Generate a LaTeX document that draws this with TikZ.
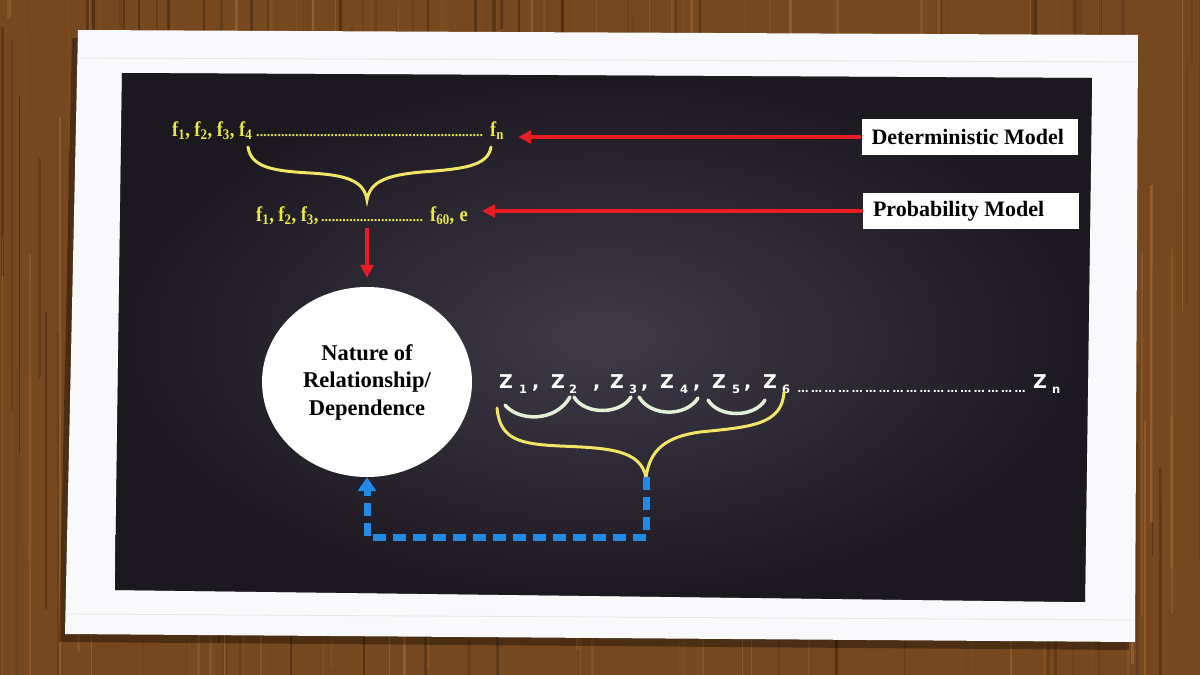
\documentclass[tikz,border=0pt]{standalone}
\usepackage{fontspec}
\setmainfont{Liberation Serif}
\newfontfamily\zfont{DejaVu Sans}
\usetikzlibrary{arrows.meta,shapes.geometric}
\definecolor{woodBase}{RGB}{118,72,32}
\definecolor{woodDark}{RGB}{50,28,12}
\definecolor{woodLight}{RGB}{175,115,55}
\definecolor{boardBase}{RGB}{44,40,52}
\definecolor{boardIn}{RGB}{68,63,78}
\definecolor{boardOut}{RGB}{24,21,28}
\definecolor{frameWhite}{RGB}{249,249,251}
\definecolor{chalkYellow}{RGB}{236,232,72}
\definecolor{braceYellow}{RGB}{242,228,100}
\definecolor{arcWhite}{RGB}{226,240,214}
\definecolor{arrowRed}{RGB}{232,28,34}
\definecolor{dashBlue}{RGB}{32,138,228}
\newcommand{\leaderdots}[2]{\makebox[#1][l]{\fontsize{#2}{#2}\selectfont\xleaders\hbox{.}\hfill}}
\newcommand{\leaderell}[1]{\makebox[#1][l]{\xleaders\hbox{\char"2026\hspace{2.2pt}}\hfill}}
\newcommand{\narrow}[1]{\scalebox{0.88}[1]{#1}}
\tikzset{
  ftext/.style={text=chalkYellow, font=\bfseries\fontsize{21}{21}\selectfont, anchor=base west, inner sep=0pt},
  ztext/.style={text=white, font=\zfont\bfseries\fontsize{19}{19}\selectfont, anchor=base west, inner sep=0pt},
  zsub/.style={text=white, font=\zfont\bfseries\fontsize{11.5}{11.5}\selectfont, anchor=base west, inner sep=0pt},
  modelbox/.style={fill=white, draw=none, minimum height=36pt, minimum width=216pt, inner sep=0pt, font=\bfseries\fontsize{22}{22}\selectfont, text=black},
  redarrow/.style={draw=arrowRed, line width=4pt, -{Triangle[length=13pt,width=13pt]}},
  bracepath/.style={draw=braceYellow, line width=3pt, line cap=round},
  arcpath/.style={draw=arcWhite, line width=3.5pt, line cap=round},
  bluedash/.style={draw=dashBlue, line width=7pt, dash pattern=on 13pt off 7pt, -{Triangle[length=14pt,width=18pt]}}
}
\begin{document}
\begin{tikzpicture}[x=1pt,y=-1pt]
\useasboundingbox (0,0) rectangle (1200,675);
% wood background
\fill[woodBase] (0,0) rectangle (1200,675);
\pgfmathsetseed{11}
\foreach \i in {1,...,260}{
  \pgfmathsetmacro\xx{rnd*1200}
  \pgfmathsetmacro\ww{0.6+rnd*3}
  \pgfmathsetmacro\yy{rnd*675-200}
  \pgfmathsetmacro\hh{150+rnd*500}
  \pgfmathsetmacro\cc{rnd*100}
  \fill[woodDark!\cc!woodLight, opacity=0.5] (\xx,\yy) rectangle ++(\ww,\hh);
}
% frame shadow
\fill[black, opacity=0.35] (72,38) -- (1132,43) -- (1129,650) -- (59,642) -- cycle;
% white frame
\fill[frameWhite] (78,30) -- (1138,35) -- (1135,642) -- (65,634) -- cycle;
\draw[black!10, line width=0.8pt] (80,58) -- (1136,62);
\draw[black!10, line width=0.8pt] (67,614) -- (1134,620);
% chalkboard
\fill[boardBase] (122,73) -- (1092,78) -- (1085,602) -- (115,590) -- cycle;
\shade[inner color=boardIn, outer color=boardOut, opacity=0.8] (122,73) -- (1092,78) -- (1085,602) -- (115,590) -- cycle;

% yellow feature rows
\node[ftext] (r1) at (172,136) {\narrow{f\textsubscript{1}, f\textsubscript{2}, f\textsubscript{3}, f\textsubscript{4}}};
\node[ftext] (d1) at (256,136) {\leaderdots{227pt}{14}};
\node[ftext] (fn) at (490,136) {\narrow{f\textsubscript{n}}};
\node[ftext] (r2) at (256,221) {\narrow{f\textsubscript{1}, f\textsubscript{2}, f\textsubscript{3},}};
\node[ftext] (d2) at (321,221) {\leaderdots{102pt}{14}};
\node[ftext] (r2b) at (430,221) {\narrow{f\textsubscript{60},\hspace{6pt}e}};

% top brace
\coordinate (tb1) at (248,147);
\coordinate (tbtip) at (367,200);
\coordinate (tb2) at (491,147);
\path[bracepath] (tb1) .. controls (251,168) and (275,171) .. (310,173)
  .. controls (345,175) and (364,180) .. (tbtip)
  .. controls (370,181) and (388,175) .. (422,172)
  .. controls (460,169) and (488,167) .. (tb2);

% model boxes
\node[modelbox] (det) at (969.5,137) {\makebox[196pt][l]{Deterministic Model}};
\node[modelbox] (prob) at (971,211) {\makebox[196pt][l]{Probability Model}};
\draw[redarrow, shorten >=14pt] (det.west) -- (det.west -| fn.east);
\draw[redarrow, shorten >=14pt] (prob.west) -- (prob.west -| r2b.east);

% ellipse
\node[ellipse, fill=white, minimum width=210pt, minimum height=190pt, inner sep=0pt, align=center,
      font=\bfseries\fontsize{22.5}{27.5}\selectfont, text=black] (nat) at (367,382)
      {Nature of\\Relationship/\\Dependence};
\draw[redarrow, shorten <=7pt, shorten >=9pt] (d2.south -| nat.north) -- (nat.north);

% Z sequence
\foreach \zx/\sx/\cx/\d in {499/519/532/1, 551/569/593/2, 610/629/641/3, 660/680/693/4, 712/732/744/5}{
  \node[ztext] (z\d) at (\zx,388) {Z};
  \node[zsub] (zs\d) at (\sx,393) {\d};
  \node[ztext] (zc\d) at (\cx,388) {,};
}
\node[ztext] (z6) at (763,388) {Z};
\node[zsub] (zs6) at (782,393) {6};
\node[text=white, font=\zfont\bfseries\fontsize{11}{11}\selectfont, anchor=base west, inner sep=0pt] (zdots) at (797,392) {\leaderell{231pt}};
\node[ztext] (zn) at (1033,388) {Z};
\node[zsub] (zsn) at (1052,393) {n};

% small arcs
\path[arcpath] (505,405) .. controls (518,421) and (555,423) .. (570,397);
\path[arcpath] (574,397) .. controls (585,415) and (620,415) .. (631,397);
\path[arcpath] (639,397) .. controls (651,417) and (686,417) .. (698,398);
\path[arcpath] (708,400) .. controls (719,418) and (754,418) .. (765,400);

% Z brace
\coordinate (zb1) at (497,408);
\coordinate (ztip) at (646,477);
\coordinate (zb2) at (784,392);
\path[bracepath] (zb1) .. controls (500,440) and (520,444) .. (560,446)
  .. controls (610,448) and (640,450) .. (ztip)
  .. controls (650,450) and (665,437) .. (700,432)
  .. controls (750,427) and (782,425) .. (zb2);

% blue dashed feedback
\coordinate (bturn) at (646,537);
\draw[bluedash] (ztip) -- (bturn) -| (nat.south);
\end{tikzpicture}
\end{document}
